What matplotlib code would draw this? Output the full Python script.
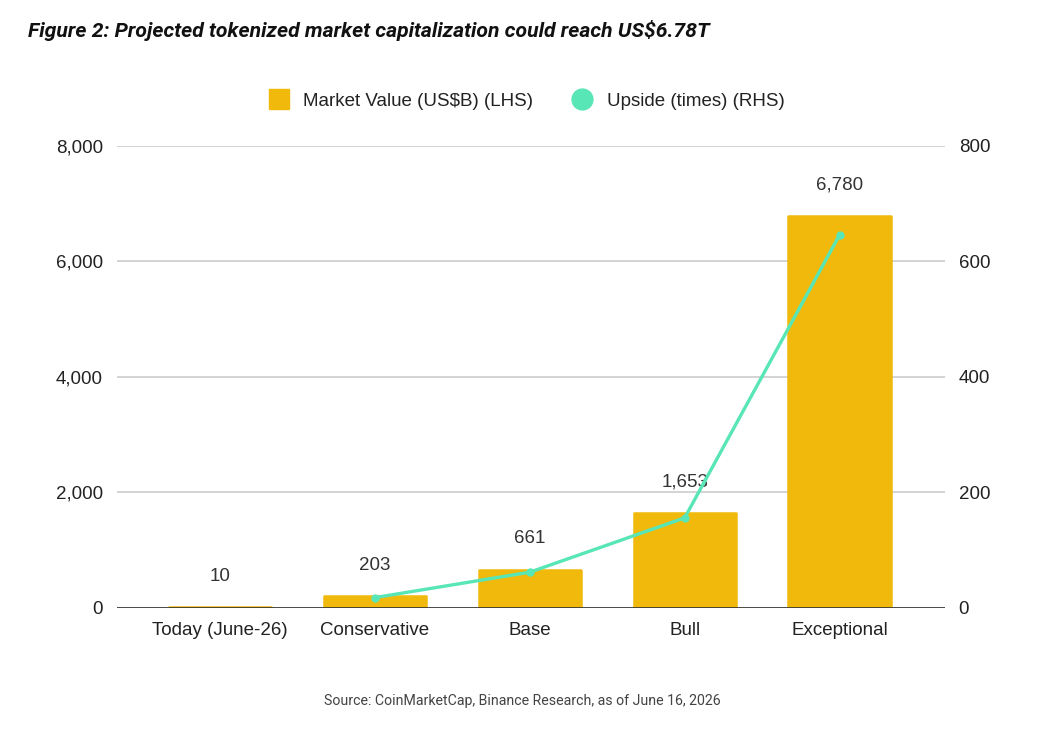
import matplotlib
matplotlib.use("Agg")
import matplotlib.pyplot as plt
from matplotlib.lines import Line2D

categories = ["Today (June-26)", "Conservative", "Base", "Bull", "Exceptional"]
market_value = [10, 203, 661, 1653, 6780]
bar_labels = ["10", "203", "661", "1,653", "6,780"]
upside = [None, 18, 62, 156, 646]
left_ticks = [0, 2000, 4000, 6000, 8000]
right_ticks = [0, 200, 400, 600, 800]

BAR = "#F0B90B"
LINE = "#58E6B7"
TXT = "#222222"
MAINFONT = ['Liberation Sans', 'DejaVu Sans']

plt.rcParams['font.family'] = MAINFONT

fig = plt.figure(figsize=(10.51, 7.35), dpi=100)
ax = fig.add_axes([0.1113, 0.1728, 0.899 - 0.1113, 0.8014 - 0.1728])
ax2 = ax.twinx()

x = list(range(len(categories)))
bars = ax.bar(x, market_value, width=0.66, color=BAR, edgecolor=BAR,
              linewidth=1.8, joinstyle='round', zorder=2)
ax.set_xlim(-0.665, 4.68)
ax.set_ylim(0, 8000)
ax.set_yticks(left_ticks)
ax.set_yticklabels([f"{v:,}" for v in left_ticks])
ax2.set_ylim(0, 800)
ax2.set_yticks(right_ticks)
ax2.set_yticklabels([str(v) for v in right_ticks])

ax.grid(axis='y', color='#CCCCCC', linewidth=1.2, zorder=0)
ax.set_axisbelow(True)
for a in (ax, ax2):
    for s in a.spines.values():
        s.set_visible(False)
    a.tick_params(length=0, labelsize=13.5, labelcolor=TXT)
ax.tick_params(axis='y', pad=10)
ax2.tick_params(axis='y', pad=10)
ax.tick_params(axis='x', pad=10)
ax.set_xticks(x)
ax.set_xticklabels(categories)
ax.axhline(0, color='#333333', linewidth=1.2, zorder=3)

for xi, v, lab in zip(x, market_value, bar_labels):
    ax.annotate(lab, (xi, v), xytext=(0, 31), textcoords='offset pixels',
                ha='center', va='center', fontsize=13.5, color='#333333')

lx = [xi for xi, u in zip(x, upside) if u is not None]
ly = [u for u in upside if u is not None]
ax2.plot(lx, ly, color=LINE, linewidth=2.4, marker='o', markersize=5, zorder=4)

fig.text(0.027, 0.958, "Figure 2: Projected tokenized market capitalization could reach US$6.78T",
         fontsize=15.2, fontweight='bold', fontstyle='italic', color='#111111',
         ha='left', va='center', family=['Roboto', 'DejaVu Sans'])

handles = [Line2D([], [], linestyle='none', marker='s', markersize=14, color=BAR),
           Line2D([], [], linestyle='none', marker='o', markersize=15, color=LINE)]
fig.legend(handles, ["Market Value (US$B) (LHS)", "Upside (times) (RHS)"],
           loc='center', bbox_to_anchor=(0.497, 0.862), ncol=2, frameon=False,
           fontsize=13.5, handletextpad=0.3, columnspacing=1.6, labelcolor=TXT)

fig.text(0.497, 0.046, "Source: CoinMarketCap, Binance Research, as of June 16, 2026",
         fontsize=10.2, color='#444444', ha='center', va='center',
         family=['Roboto', 'DejaVu Sans'])

fig.savefig("out.png", dpi=100)
